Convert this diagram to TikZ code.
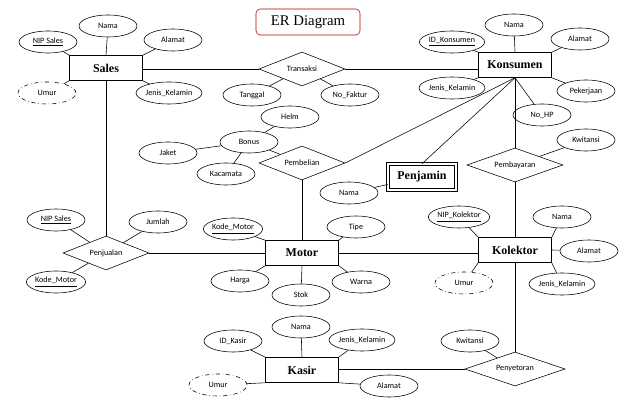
\documentclass[tikz,border=0pt]{standalone}
\usepackage{fontspec}
\setmainfont{Liberation Serif}
\newfontfamily\carlitofont{Carlito}
\usetikzlibrary{shapes.geometric}
\begin{document}
\begin{tikzpicture}[x=0.025cm,y=-0.025cm,line width=0.4pt,
 attr/.style={ellipse,draw,minimum width=58*0.025cm,minimum height=22*0.025cm,inner sep=0pt,font=\carlitofont\fontsize{5.8}{6}\selectfont},
 wat/.style={attr,minimum width=64*0.025cm},
 dat/.style={attr,dash dot},
 ent/.style={rectangle,draw,minimum width=73*0.025cm,minimum height=25*0.025cm,font=\bfseries\fontsize{8.5}{9}\selectfont},
 rel/.style={diamond,draw,aspect=2.5,minimum width=86*0.025cm,minimum height=34*0.025cm,inner sep=0pt,font=\carlitofont\fontsize{5.8}{6}\selectfont}]
\useasboundingbox (0,0) rectangle (640,400);
\node[draw=red!70!black,rounded corners=3pt,minimum width=104*0.025cm,minimum height=26*0.025cm,font=\fontsize{10.5}{11}\selectfont] (title) at (308,22) {ER Diagram};
% Sales
\node[ent] (sales) at (106,68) {Sales};
\node[attr] (sn) at (108,26) {Nama};
\node[attr] (snip) at (48,42) {\underline{NIP Sales}};
\node[attr] (sal) at (173,40) {Alamat};
\node[dat] (sum) at (47,93) {Umur};
\node[attr] (sjk) at (169,93) {Jenis\_Kelamin};
\draw (sales.north) -- (sn); \draw (sales.north west) -- (snip); \draw (sales.north east) -- (sal);
\draw (sales.south west) -- (sum); \draw (sales.south east) -- (sjk);
% Transaksi
\node[rel] (tr) at (302,69) {Transaksi};
\node[attr] (tg) at (252,95) {Tanggal};
\node[attr] (nf) at (350,95) {No\_Faktur};
\draw (tr.west -| sales.east) -- (tr.west); \draw (tr) -- (tg); \draw (tr) -- (nf);
% Konsumen
\node[ent] (kon) at (515,65) {Konsumen};
\node[attr] (kn) at (514,25) {Nama};
\node[attr] (kid) at (452,42) {\underline{ID\_Konsumen}};
\node[attr] (kal) at (580,39) {Alamat};
\node[wat] (kjk) at (452,88) {Jenis\_Kelamin};
\node[attr] (kpk) at (586,91) {Pekerjaan};
\node[attr] (khp) at (542,115) {No\_HP};
\draw (tr.east) -- (tr.east -| kon.west);
\draw (kon.north) -- (kn); \draw (kon.north west) -- (kid); \draw (kon.north east) -- (kal);
\draw (kon.south west) -- (kjk); \draw (kon.south east) -- (kpk); \draw (kon.south) -- (khp);
% Pembayaran
\node[rel,minimum width=96*0.025cm] (pb) at (515,165) {Pembayaran};
\node[attr] (kw1) at (586,140) {Kwitansi};
\draw (kon.south) -- (pb.north); \draw (pb) -- (kw1);
% Penjamin
\node[draw,double,double distance=1.5pt,minimum width=68*0.025cm,minimum height=26*0.025cm,font=\bfseries\fontsize{8.5}{9}\selectfont] (pj) at (422,177) {Penjamin};
\node[attr] (pjn) at (349,193) {Nama};
\draw (kon.south) -- (pj.north); \draw (pj) -- (pjn);
% Pembelian
\node[rel] (pm) at (302,163) {Pembelian};
\node[attr] (helm) at (290,117) {Helm};
\node[attr] (bon) at (249,142) {Bonus};
\node[attr] (jak) at (168,153) {Jaket};
\node[attr] (kac) at (226,174) {Kacamata};
\draw (kon.south) -- (pm.east);
\draw (bon) -- (helm); \draw (bon) -- (jak); \draw (bon) -- (kac); \draw (bon) -- (pm);
% Motor
\node[ent] (mot) at (302,253) {Motor};
\node[attr] (mkm) at (233,229) {\underline{Kode\_Motor}};
\node[attr] (mtp) at (356,227) {Tipe};
\node[attr] (mhg) at (240,281) {Harga};
\node[attr] (mst) at (301,295) {Stok};
\node[attr] (mwr) at (361,282) {Warna};
\draw (pm.south) -- (mot.north);
\draw (mot.north west) -- (mkm); \draw (mot.north east) -- (mtp);
\draw (mot.south west) -- (mhg); \draw (mot.south) -- (mst); \draw (mot.south east) -- (mwr);
% Penjualan
\node[rel] (pn) at (106,253) {Penjualan};
\node[attr] (pns) at (56,220) {\underline{NIP Sales}};
\node[attr] (pnj) at (158,222) {Jumlah};
\node[attr] (pnk) at (56,282) {\underline{Kode\_Motor}};
\draw (sales.south) -- (pn.north); \draw (pn.east) -- (mot.west);
\draw (pn) -- (pns); \draw (pn) -- (pnj); \draw (pn) -- (pnk);
% Kolektor
\node[ent] (kol) at (515,250) {Kolektor};
\node[attr] (knip) at (459,217) {\underline{NIP\_Kolektor}};
\node[attr] (kon2) at (562,217) {Nama};
\node[attr] (kal2) at (589,251) {Alamat};
\node[wat] (kjk2) at (562,284) {Jenis\_Kelamin};
\node[dat] (kum) at (464,283) {Umur};
\draw (mot.east) -- (mot.east -| kol.west); \draw (pb.south) -- (kol.north);
\draw (kol.north west) -- (knip); \draw (kol.north east) -- (kon2); \draw (kol.east) -- (kal2);
\draw (kol.south east) -- (kjk2); \draw (kol.south west) -- (kum);
% Penyetoran
\node[rel,minimum width=100*0.025cm] (ps) at (515,369) {Penyetoran};
\node[attr] (kw2) at (470,341) {Kwitansi};
\draw (kol.south) -- (ps.north); \draw (ps) -- (kw2);
% Kasir
\node[ent] (kas) at (302,370) {Kasir};
\node[attr] (ksn) at (301,327) {Nama};
\node[attr] (ksid) at (233,341) {ID\_Kasir};
\node[wat] (ksjk) at (362,340) {Jenis\_Kelamin};
\node[dat] (ksum) at (218,385) {Umur};
\node[attr] (ksal) at (389,386) {Alamat};
\draw (ps.west -| kas.east) -- (ps.west);
\draw (kas.north) -- (ksn); \draw (kas.north west) -- (ksid); \draw (kas.north east) -- (ksjk);
\draw (kas.south west) -- (ksum); \draw (kas.south east) -- (ksal);
\end{tikzpicture}
\end{document}
